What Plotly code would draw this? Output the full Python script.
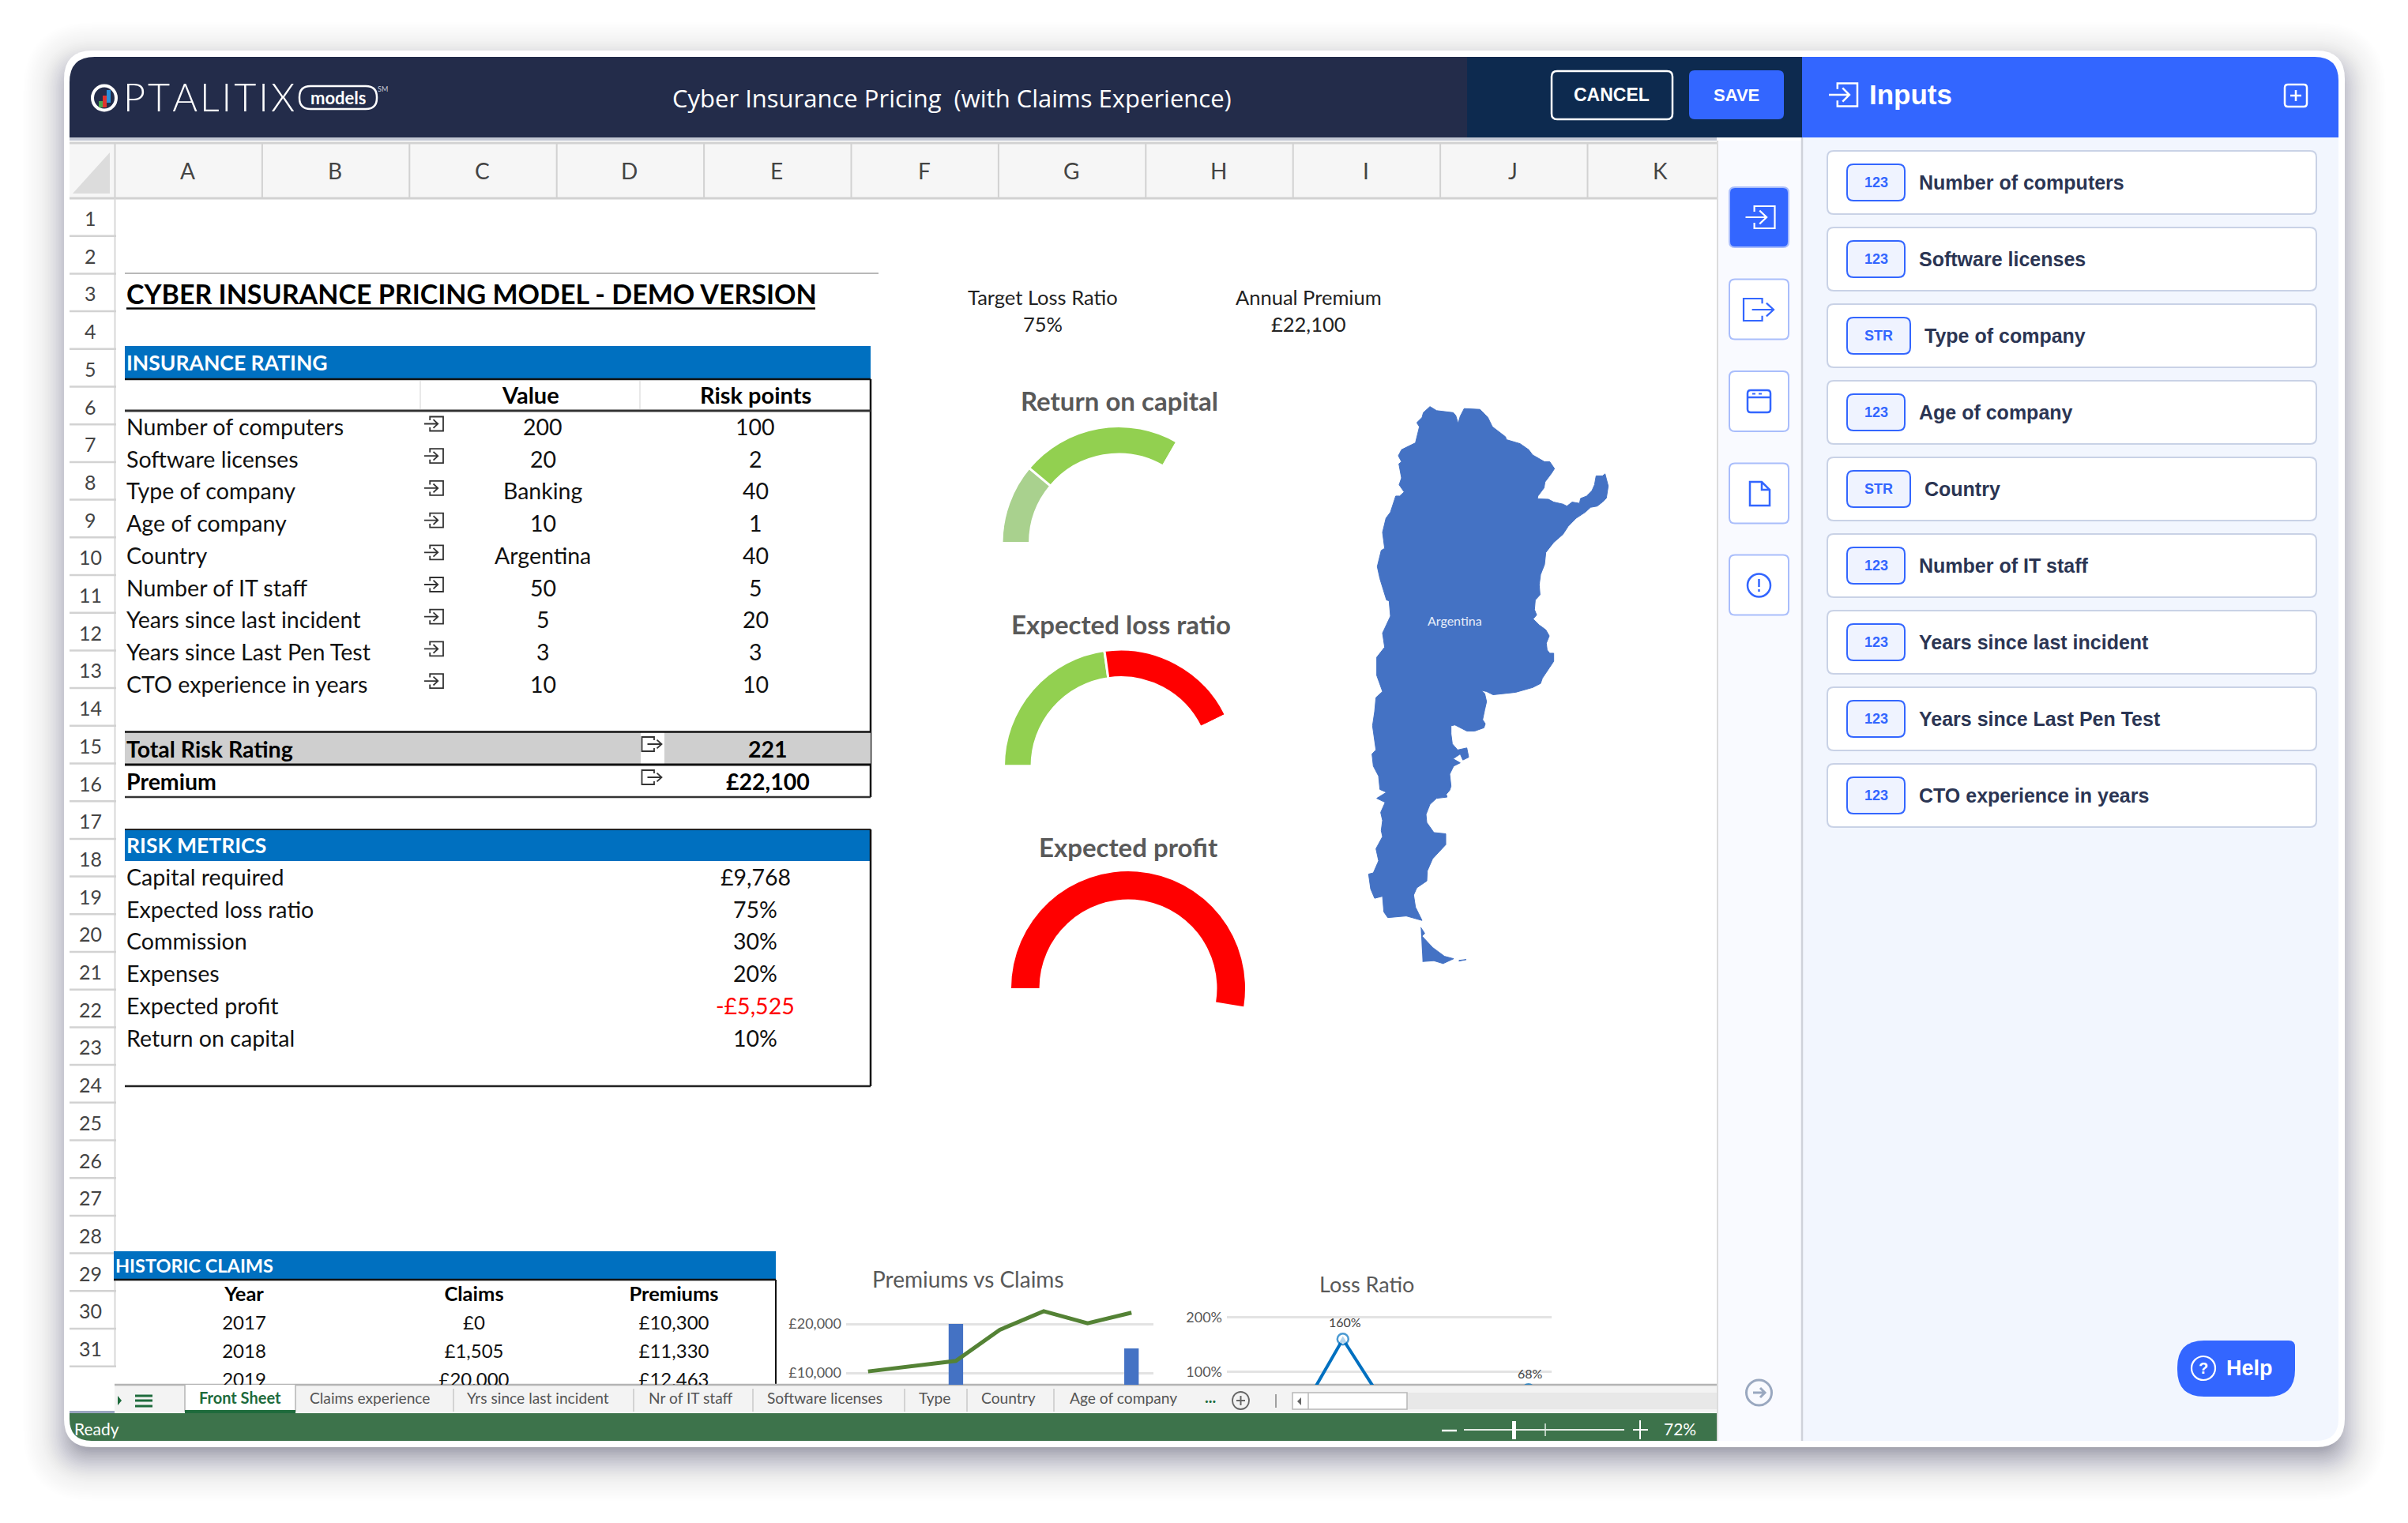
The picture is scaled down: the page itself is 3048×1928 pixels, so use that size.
import plotly.graph_objects as go

W, H = 3048, 1928

#______________ Data ______________

COLUMN_LETTERS = ["A", "B", "C", "D", "E", "F", "G", "H", "I", "J", "K"]
ROW_NUMBERS = list(range(1, 32))

INPUT_NAMES = ["Number of computers", "Software licenses", "Type of company", "Age of company", "Country",
               "Number of IT staff", "Years since last incident", "Years since Last Pen Test", "CTO experience in years"]
INPUT_TYPES = ["123", "123", "STR", "123", "STR", "123", "123", "123", "123"]
INPUT_VALUES = ["200", "20", "Banking", "10", "Argentina", "50", "5", "3", "10"]
RISK_POINTS = ["100", "2", "40", "1", "40", "5", "20", "3", "10"]

METRIC_NAMES = ["Capital required", "Expected loss ratio", "Commission", "Expenses", "Expected profit", "Return on capital"]
METRIC_VALUES = ["£9,768", "75%", "30%", "20%", "-£5,525", "10%"]

YEARS = ["2017", "2018", "2019", "2020", "2021", "2022", "2023"]
CLAIMS = [0, 1505, 20000, 5300, 0, 0, 15000]
PREMIUMS = [10300, 11330, 12463, 18800, 22600, 20150, 22300]
LOSS_RATIO = [0, 13, 160, 28, 0, 0, 68]
PREMIUM_TICKS = [10000, 20000]
PREMIUM_TICK_TEXT = ["£10,000", "£20,000"]
LOSS_TICKS = [100, 200]
LOSS_TICK_TEXT = ["100%", "200%"]

GAUGE_TITLES = ["Return on capital", "Expected loss ratio", "Expected profit"]
GAUGE_SLICES = [[40, 80, 240], [82, 72, 206], [189, 171]]
GAUGE_COLORS = [["#a9d18e", "#92d050", "rgba(0,0,0,0)"],
                ["#92d050", "#ff0000", "rgba(0,0,0,0)"],
                ["#ff0000", "rgba(0,0,0,0)"]]

SHEET_TABS = ["Claims experience", "Yrs since last incident", "Nr of IT staff", "Software licenses", "Type", "Country", "Age of company"]

# outline of the country
MAP_X = [330, 355, 418, 428, 437, 445, 460, 520, 550, 567, 617, 620, 672, 705, 720, 765, 785, 803, 790, 767, 763, 740, 738,
         780, 800, 835, 850, 870, 898, 902, 925, 945, 955, 961, 985, 995, 1007, 1000, 985, 965, 940, 920, 885, 855, 835, 800,
         770, 765, 750, 745, 748, 730, 727, 735, 722, 745, 770, 783, 772, 775, 785, 800, 800, 757, 750, 720, 655, 570, 545,
         525, 538, 545, 538, 530, 540, 535, 500, 470, 425, 410, 410, 415, 435, 470, 477, 455, 445, 418, 445, 420, 405, 410,
         405, 392, 395, 355, 330, 315, 318, 345, 390, 390, 340, 320, 318, 280, 268, 275, 300, 240, 170, 155, 150, 120, 105,
         97, 115, 135, 125, 150, 145, 150, 143, 160, 128, 165, 140, 135, 115, 110, 125, 112, 120, 125, 150, 128, 128, 158,
         150, 180, 175, 165, 140, 130, 145, 158, 150, 163, 180, 200, 215, 232, 213, 222, 212, 222, 210, 222, 275, 290, 280,
         300, 305, 330, None, 295, 310, 300, 340, 385, 420, 380, 345, 302, None, 440, 468, 440]
MAP_Y = [68, 78, 83, 90, 110, 92, 73, 75, 95, 118, 143, 150, 160, 175, 188, 205, 205, 222, 235, 255, 270, 290, 297,
         298, 305, 310, 315, 305, 308, 296, 290, 277, 262, 240, 240, 235, 265, 295, 305, 315, 318, 330, 345, 365, 385, 405,
         430, 460, 485, 510, 535, 548, 572, 585, 595, 610, 622, 637, 655, 672, 680, 680, 700, 742, 755, 765, 777, 783, 775,
         772, 780, 800, 820, 845, 855, 865, 873, 873, 858, 860, 880, 905, 920, 915, 938, 945, 930, 942, 952, 960, 980, 1010,
         1020, 1030, 1037, 1040, 1055, 1080, 1100, 1125, 1128, 1155, 1190, 1220, 1245, 1262, 1280, 1310, 1343, 1332, 1336, 1322, 1283, 1288, 1265,
         1228, 1225, 1195, 1165, 1135, 1120, 1095, 1075, 1050, 1040, 1025, 1018, 985, 960, 930, 920, 860, 825, 790, 775, 735, 690, 665,
         630, 588, 550, 548, 495, 465, 425, 420, 380, 345, 330, 290, 290, 280, 262, 245, 210, 205, 190, 175, 158, 118, 108,
         95, 83, 68, None, 1360, 1375, 1382, 1410, 1432, 1438, 1450, 1443, 1445, None, 1442, 1440, 1444]

#______________ Colours / fonts ______________

NAVY = "#232c4a"
NAVY_DARK = "#0d2a4f"
BLUE = "#3366ff"
EXCEL_BLUE = "#0070c0"
EXCEL_GREEN = "#3d734b"
TAB_GREEN = "#1e6b3c"
INK = "#2b3553"
CELL_FONT = "Lato"
UI_FONT = "Liberation Sans"

shapes = []
annotations = []


#______________ Helpers ______________

def rr_path(x0, y0, x1, y1, r):
    """Rounded rectangle as an svg path. r is one radius or (tl, tr, br, bl)"""
    tl, tr, br, bl = (r, r, r, r) if not isinstance(r, tuple) else r
    return (f"M{x0+tl},{y0} L{x1-tr},{y0} Q{x1},{y0} {x1},{y0+tr} L{x1},{y1-br} Q{x1},{y1} {x1-br},{y1} "
            f"L{x0+bl},{y1} Q{x0},{y1} {x0},{y1-bl} L{x0},{y0+tl} Q{x0},{y0} {x0+tl},{y0} Z")


def add_box(x0, y0, x1, y1, fill, line=None, width=0, r=0):
    shape = dict(type="path", xref="x", yref="y", layer="below", path=rr_path(x0, y0, x1, y1, r), fillcolor=fill)
    shape["line"] = dict(color=line, width=width) if line else dict(width=0)
    shapes.append(shape)


def add_line(x0, y0, x1, y1, color, width=2):
    shapes.append(dict(type="line", xref="x", yref="y", layer="below", x0=x0, y0=y0, x1=x1, y1=y1,
                       line=dict(color=color, width=width)))


def add_path(path, color, width=2, fill=None):
    shapes.append(dict(type="path", xref="x", yref="y", layer="below", path=path, fillcolor=fill or "rgba(0,0,0,0)",
                       line=dict(color=color, width=width)))


def add_circle(cx, cy, rx, ry, color, width=2, fill=None):
    shapes.append(dict(type="circle", xref="x", yref="y", layer="below", x0=cx-rx, x1=cx+rx, y0=cy-ry, y1=cy+ry,
                       fillcolor=fill or "rgba(0,0,0,0)", line=dict(color=color, width=width)))


def label(x, y, text, size, color="#111111", font=CELL_FONT, weight=400, anchor="center"):
    annotations.append(dict(x=x, y=y, xref="x", yref="y", text=text, showarrow=False, xanchor=anchor, yanchor="middle",
                            font=dict(family=font, size=size, color=color, weight=weight), borderpad=0))


def scaled(points, x, y, w, h):
    out = ""
    for cmd, px, py in points:
        out += f"{cmd}{x + px * w},{y + py * h} "
    return out


def icon_in(cx, cy, w, h, color, width=2):
    x, y = cx - w / 2, cy - h / 2
    pts = [("M", .3, .25), ("L", .3, 0), ("L", 1, 0), ("L", 1, 1), ("L", .3, 1), ("L", .3, .75),
           ("M", 0, .5), ("L", .72, .5), ("M", .48, .2), ("L", .72, .5), ("L", .48, .8)]
    add_path(scaled(pts, x, y, w, h), color, width)


def icon_out(cx, cy, w, h, color, width=2):
    x, y = cx - w / 2, cy - h / 2
    pts = [("M", .62, .22), ("L", .62, 0), ("L", 0, 0), ("L", 0, 1), ("L", .62, 1), ("L", .62, .78),
           ("M", .28, .5), ("L", 1, .5), ("M", .76, .2), ("L", 1, .5), ("L", .76, .8)]
    add_path(scaled(pts, x, y, w, h), color, width)


def dom_x(a, b):
    return [a / W, b / W]


def dom_y(top, bottom):
    return [1 - bottom / H, 1 - top / H]


#______________ Page chrome ______________

# soft shadow around the card, each ring adds a little more going inward
for e in range(-20, 64, 2):
    alpha = 0.034 * ((64 - e) / 84) ** 1.4
    shapes.append(dict(type="path", xref="x", yref="y", layer="below", line=dict(width=0),
                       fillcolor=f"rgba(70,76,100,{alpha:.4f})",
                       path=rr_path(81 - e, 80 - e, 2968 + e, 1848 + e, max(36 + e, 10))))

add_box(81, 64, 2968, 1832, "#ffffff", r=36)

# title bar
add_box(88, 72, 1860, 174, NAVY, r=(32, 0, 0, 0))
add_box(1857, 72, 2281, 174, NAVY_DARK)
add_box(2281, 72, 2960, 174, BLUE, r=(0, 30, 0, 0))
add_box(88, 174, 2173, 178, "#c3c8d4")

# logo
add_circle(132, 124, 15, 15.5, "#ffffff", 4)
add_box(125, 128, 130, 136, "#4ca64c")
add_box(130, 121, 135, 136, "#e0322c")
add_box(135, 114, 140, 130, "#2a8fd8")
label(155, 122, "P\u200aT\u200aA\u200aL\u200aI\u200aT\u200aI\u200aX", 48.5, "#ffffff", "Lato", 300, "left")
add_box(379, 109, 477, 138, "rgba(0,0,0,0)", "#ffffff", 2.5, r=14)
label(428, 123, "models", 22, "#ffffff", "Lato", 700)
label(484, 112, "SM", 9, "#c8ccd8", "Lato")

label(1205, 124, "Cyber Insurance Pricing\u00a0\u00a0(with Claims Experience)", 31, "#ffffff", "Open Sans")

add_box(1964, 90, 2117, 151, "rgba(0,0,0,0)", "#ffffff", 2.5, r=7)
label(2040, 120, "CANCEL", 23, "#ffffff", UI_FONT, 700)
add_box(2138, 89, 2258, 151, BLUE, r=7)
label(2198, 120, "SAVE", 22, "#ffffff", UI_FONT, 700)

icon_in(2333, 120, 36, 29, "#ffffff", 2.5)
label(2365, 119, "Inputs", 35, "#ffffff", UI_FONT, 700, "left")
add_box(2892, 107, 2920, 135, "rgba(0,0,0,0)", "#ffffff", 2.5, r=4)
add_line(2899, 121, 2913, 121, "#ffffff", 2.5)
add_line(2906, 114, 2906, 128, "#ffffff", 2.5)

# column headers
add_box(88, 181, 2173, 251, "#f6f6f6")
add_line(88, 181, 2173, 181, "#d2d2d2", 3)
add_line(88, 251, 2173, 251, "#d2d2d2", 3)
add_path("M92,245 L139,245 L139,193 Z", "#dcdcdc", 0, "#dcdcdc")
add_line(145.5, 181, 145.5, 251, "#d2d2d2", 2)
for i, letter in enumerate(COLUMN_LETTERS):
    x0 = 145.5 + 186.4 * i
    if i > 0:
        add_line(x0, 181, x0, 251, "#d2d2d2", 2)
    label(x0 + 92, 216, letter, 28, "#444444")

# row headers
add_line(145.5, 251, 145.5, 1731, "#d8d8d8", 2)
for i, num in enumerate(ROW_NUMBERS):
    y0 = 251 + 47.7 * i
    add_line(88, y0 + 47.7, 147, y0 + 47.7, "#d2d2d2", 2.5)
    label(114, y0 + 25, str(num), 25, "#444444")

#______________ Insurance rating table ______________

add_line(158, 346, 1112, 346, "#b8b8b8", 2)
label(159, 371, "CYBER INSURANCE PRICING MODEL - DEMO VERSION", 34, "#000000", CELL_FONT, 700, "left")
add_line(160, 390.5, 1032, 390.5, "#000000", 2.5)

add_box(158, 438, 1102, 480, EXCEL_BLUE)
label(159, 459, "INSURANCE RATING", 26.5, "#ffffff", CELL_FONT, 700, "left")
add_line(158, 480, 1102, 480, "#111111", 2.5)
add_line(1102, 480, 1102, 1009, "#111111", 2.5)
add_line(532, 482, 532, 518, "#e2e2e2", 1.5)
add_line(810, 482, 810, 518, "#e2e2e2", 1.5)
add_line(158, 520, 1102, 520, "#333333", 3)
label(671, 499, "Value", 29, "#000000", CELL_FONT, 700)
label(956, 499, "Risk points", 29, "#000000", CELL_FONT, 700)

for i, name in enumerate(INPUT_NAMES):
    y = 540 + 40.7 * i
    label(159, y, name, 28.6, "#111111", CELL_FONT, 400, "left")
    label(687, y, INPUT_VALUES[i], 28.5)
    label(956, y, RISK_POINTS[i], 28.5)
    icon_in(549, y - 3.5, 24, 18, "#333333", 1.8)

add_box(158, 927, 811, 967, "#cfcfcf")
add_box(841, 927, 1102, 967, "#cfcfcf")
add_line(158, 926.5, 1102, 926.5, "#111111", 2.5)
add_line(158, 968, 1102, 968, "#111111", 3)
add_line(158, 1009, 1102, 1009, "#333333", 2.5)
label(159, 947.5, "Total Risk Rating", 28.5, "#000000", CELL_FONT, 700, "left")
label(972, 947.5, "221", 28.5, "#000000", CELL_FONT, 700)
label(159, 988.5, "Premium", 28.5, "#000000", CELL_FONT, 700, "left")
label(972, 988.5, "£22,100", 28.5, "#000000", CELL_FONT, 700)
icon_out(825, 942, 25, 18, "#333333", 1.8)
icon_out(825, 984, 25, 18, "#333333", 1.8)

#______________ Risk metrics table ______________

add_box(158, 1050, 1102, 1090, EXCEL_BLUE)
add_line(158, 1050, 1102, 1050, "#222222", 2)
add_line(1102, 1050, 1102, 1375, "#111111", 2.5)
add_line(158, 1375, 1102, 1375, "#222222", 2.5)
label(159, 1070, "RISK METRICS", 26.5, "#ffffff", CELL_FONT, 700, "left")
for i, name in enumerate(METRIC_NAMES):
    y = 1110 + 40.7 * i
    label(159, y, name, 28.6, "#111111", CELL_FONT, 400, "left")
    label(956, y, METRIC_VALUES[i], 28.5, "#ff0000" if METRIC_VALUES[i].startswith("-") else "#111111")

#______________ Headline figures and gauge titles ______________

label(1320, 376, "Target Loss Ratio", 25.5, "#222222")
label(1320, 410, METRIC_VALUES[1], 25.5, "#222222")
label(1656, 376, "Annual Premium", 25.5, "#222222")
label(1656, 410, "£22,100", 25.5, "#222222")

GAUGE_CENTERS = [(1416, 687.5), (1418.5, 970), (1428, 1251)]
GAUGE_TITLE_POS = [(1416.5, 506.5), (1419, 790), (1428.5, 1072)]
GAUGE_ROTATION = [-90, -90, -90]
for i, title in enumerate(GAUGE_TITLES):
    label(GAUGE_TITLE_POS[i][0], GAUGE_TITLE_POS[i][1], title, 33, "#595959", CELL_FONT, 700)

label(1841.5, 785, "Argentina", 16, "#e8eefa")

#______________ Historic claims header ______________

add_box(144, 1584, 982, 1620, EXCEL_BLUE)
add_line(144, 1620, 982, 1620, "#111111", 2.5)
add_line(982, 1620, 982, 1753, "#111111", 2)
label(145, 1602, "HISTORIC CLAIMS", 23.5, "#ffffff", CELL_FONT, 700, "left")

label(1225, 1618.5, "Premiums vs Claims", 28, "#595959")
label(1729.5, 1625.5, "Loss Ratio", 27, "#595959")
label(1702.5, 1673, f"{LOSS_RATIO[2]}%", 16, "#404040")
label(1937, 1738, f"{LOSS_RATIO[6]}%", 16, "#404040")

#______________ Sheet tabs and status bar ______________

add_box(145, 1753, 2173, 1788, "#f3f3f3")
add_line(145, 1753, 2173, 1753, "#b4b4b4", 2.5)
add_box(234, 1753, 374, 1788, "#ffffff")
add_line(234, 1753, 234, 1787, "#b4b4b4", 1.5)
add_line(374, 1753, 374, 1787, "#b4b4b4", 1.5)
add_box(234, 1785, 374, 1789, TAB_GREEN)
add_box(88, 1786, 145, 1789, "#9aa5c0")
label(304, 1769, "Front Sheet", 20, TAB_GREEN, CELL_FONT, 700)
add_path("M149,1767 L154,1773 L149,1779 Z", TAB_GREEN, 0, TAB_GREEN)
for yy in (1767, 1773, 1780):
    add_line(171, yy, 193, yy, TAB_GREEN, 3)

TAB_CENTERS = [468, 681, 874, 1044, 1183, 1276, 1422]
TAB_SEPS = [574, 802, 953, 1145, 1224, 1334]
for name, cx in zip(SHEET_TABS, TAB_CENTERS):
    label(cx, 1769, name, 19.2, "#555555")
for sx in TAB_SEPS:
    add_line(sx, 1758, sx, 1787, "#c8c8c8", 1.5)
label(1532, 1768, "...", 20, TAB_GREEN, CELL_FONT, 700)
add_circle(1570.5, 1773, 10.5, 11, "#666666", 1.8)
add_line(1565, 1773, 1576, 1773, "#666666", 2)
add_line(1570.5, 1767, 1570.5, 1779, "#666666", 2)
add_line(1615, 1765, 1615, 1782, "#a0a0a0", 2)
add_box(1636, 1763, 2173, 1784, "#e8e8e8")
add_box(1636, 1763, 1781, 1784, "#ffffff", "#b8b8b8", 1.5)
add_line(1656, 1763, 1656, 1784, "#b8b8b8", 1.5)
add_path("M1647,1769 L1642,1774 L1647,1779 Z", "#666666", 0, "#666666")

add_box(88, 1789, 2173, 1824, EXCEL_GREEN, r=(0, 0, 0, 28))
label(93, 1808, "Ready", 21, "#ffffff", CELL_FONT, 400, "left")
add_line(1825, 1811, 1844, 1811, "#ffffff", 2.5)
add_line(1853, 1810, 2056, 1810, "#e4ece6", 2)
add_box(1914, 1799, 1919, 1822, "#ffffff")
add_line(1956, 1802, 1956, 1818, "#e4ece6", 1.5)
add_line(2067, 1810, 2086, 1810, "#ffffff", 2)
add_line(2076, 1798, 2076, 1822, "#ffffff", 2)
label(2126, 1808, "72%", 21, "#ffffff")

#______________ Sidebar and inputs panel ______________

add_box(2173, 178, 2281, 1824, "#f9faff")
add_line(2174, 178, 2174, 1824, "#dcdcdc", 2)
add_box(2281, 174, 2960, 1824, "#f2f6fe", r=(0, 0, 28, 0))
add_line(2281, 174, 2281, 1824, "#cfd2da", 2.5)

BUTTON_TOPS = [237, 353.5, 470, 586.5, 702.5]
for i, top in enumerate(BUTTON_TOPS):
    add_box(2189, top, 2264, top + 76, BLUE if i == 0 else "#ffffff", "#a9bdfb", 2, r=7)

icon_in(2228, 275, 37, 28, "#ffffff", 2.2)
icon_out(2226, 392, 38, 28, BLUE, 2.2)
# window icon
add_box(2212, 494, 2241, 522, "rgba(0,0,0,0)", BLUE, 2.5, r=4)
add_line(2212, 503, 2241, 503, BLUE, 2.5)
add_line(2218, 498.5, 2222, 498.5, BLUE, 2)
add_line(2226, 498.5, 2230, 498.5, BLUE, 2)
# file icon
add_path("M2215,610 L2230,610 L2240,620 L2240,640 L2215,640 Z M2230,610 L2230,620 L2240,620", BLUE, 2.5)
# info icon
add_circle(2226.5, 741, 14.5, 14.5, BLUE, 2.5)
add_line(2226.5, 733, 2226.5, 743, BLUE, 2.5)
add_line(2226.5, 746, 2226.5, 749, BLUE, 2.5)
# collapse arrow
add_circle(2226.5, 1763, 16, 16, "#9aa8c0", 3)
add_path("M2219,1763 L2234,1763 M2228,1757 L2234,1763 L2228,1769", "#9aa8c0", 3)

for i, name in enumerate(INPUT_NAMES):
    top = 191 + 97 * i
    add_box(2313, top, 2932, top + 80, "#ffffff", "#c9d2e6", 2, r=8)
    kind = INPUT_TYPES[i]
    right = 2411 if kind == "123" else 2418
    add_box(2338, top + 17, right, top + 63, "#eff3ff", BLUE, 2, r=8)
    label((2338 + right) / 2, top + 39.5, kind, 18, BLUE, UI_FONT, 700)
    label(right + 17, top + 39.5, name, 25, INK, UI_FONT, 700, "left")

add_box(2756, 1697, 2905, 1768, BLUE, r=(34, 8, 34, 34))
add_circle(2789, 1732, 15, 15, "#ffffff", 2.2)
label(2789, 1732, "?", 20, "#ffffff", UI_FONT, 700)
label(2817, 1732, "Help", 27, "#ffffff", UI_FONT, 700, "left")

#______________ Traces ______________

fig = go.Figure()

# page axes carry the chrome shapes and labels
fig.add_trace(go.Scatter(x=[0], y=[0], mode="markers", marker=dict(opacity=0), hoverinfo="skip", showlegend=False))

# doughnut gauges, the unused part of the ring is transparent
R_OUT = 148
for i, values in enumerate(GAUGE_SLICES):
    cx, cy = GAUGE_CENTERS[i]
    fig.add_trace(go.Pie(values=values, labels=[str(k) for k in range(len(values))], hole=0.76, sort=False,
                         direction="clockwise", rotation=GAUGE_ROTATION[i], textinfo="none", hoverinfo="skip",
                         showlegend=False,
                         marker=dict(colors=GAUGE_COLORS[i], line=dict(color="#ffffff", width=3 if i < 2 else 0)),
                         domain=dict(x=dom_x(cx - R_OUT, cx + R_OUT), y=dom_y(cy - R_OUT, cy + R_OUT))))

fig.add_trace(go.Scatter(x=MAP_X, y=MAP_Y, xaxis="x2", yaxis="y2", mode="lines", fill="toself", fillcolor="#4472c4",
                         line=dict(color="#4472c4", width=1), hoverinfo="skip", showlegend=False))

fig.add_trace(go.Bar(x=YEARS, y=CLAIMS, xaxis="x3", yaxis="y3", marker=dict(color="#4472c4", line=dict(width=0)), width=0.33,
                     hoverinfo="skip", showlegend=False))
fig.add_trace(go.Scatter(x=YEARS, y=PREMIUMS, xaxis="x3", yaxis="y3", mode="lines", line=dict(color="#548235", width=5),
                         hoverinfo="skip", showlegend=False))

fig.add_trace(go.Scatter(x=YEARS, y=LOSS_RATIO, xaxis="x4", yaxis="y4", mode="lines+markers",
                         line=dict(color=EXCEL_BLUE, width=4),
                         marker=dict(size=[0, 0, 14, 0, 0, 0, 14], color="#ffffff", line=dict(color=EXCEL_BLUE, width=2.5)),
                         hoverinfo="skip", showlegend=False))

# historic table goes in its own subplot so the tab bar cuts off the last row shown
HIST_COLS = [309, 600, 853]
HIST_SHOWN = 3
hist_cells = [YEARS[:HIST_SHOWN], [f"£{v:,}" for v in CLAIMS[:HIST_SHOWN]], [f"£{v:,}" for v in PREMIUMS[:HIST_SHOWN]]]
for col, header in enumerate(["Year", "Claims", "Premiums"]):
    fig.add_trace(go.Scatter(x=[HIST_COLS[col]], y=[0], xaxis="x5", yaxis="y5", mode="text", text=[header],
                             textfont=dict(family=CELL_FONT, size=25.5, color="#000000", weight=700),
                             hoverinfo="skip", showlegend=False))
    fig.add_trace(go.Scatter(x=[HIST_COLS[col]] * HIST_SHOWN, y=list(range(1, HIST_SHOWN + 1)), xaxis="x5", yaxis="y5", mode="text",
                             text=hist_cells[col], textfont=dict(family=CELL_FONT, size=24, color="#111111"),
                             cliponaxis=True, hoverinfo="skip", showlegend=False))

hidden = dict(visible=False, fixedrange=True)
chart_y = dict(showgrid=True, gridcolor="#e3e3e3", gridwidth=2.5, zeroline=False, showline=False, ticks="", ticklabelstandoff=5,
               tickfont=dict(family=CELL_FONT, size=18, color="#595959"), fixedrange=True)

fig.update_layout(
    width=W, height=H, margin=dict(l=0, r=0, t=0, b=0), paper_bgcolor="#ffffff", plot_bgcolor="rgba(0,0,0,0)",
    showlegend=False, shapes=shapes, annotations=annotations,
    xaxis=dict(range=[0, W], domain=[0, 1], **hidden),
    yaxis=dict(range=[H, 0], domain=[0, 1], **hidden),
    xaxis2=dict(range=[0, 1200], domain=dom_x(1700, 2100), anchor="y2", **hidden),
    yaxis2=dict(range=[1568, 0], domain=dom_y(480, 1280), anchor="x2", **hidden),
    xaxis3=dict(type="category", range=[-0.5, 6.5], domain=dom_x(1071, 1460), anchor="y3", **hidden),
    yaxis3=dict(range=[7580, 24200], domain=dom_y(1650, 1753), anchor="x3", tickvals=PREMIUM_TICKS, ticktext=PREMIUM_TICK_TEXT, **chart_y),
    xaxis4=dict(type="category", range=[-0.5, 6.5], domain=dom_x(1553, 1964), anchor="y4", **hidden),
    yaxis4=dict(range=[77, 225], domain=dom_y(1650, 1753), anchor="x4", tickvals=LOSS_TICKS, ticktext=LOSS_TICK_TEXT, **chart_y),
    xaxis5=dict(range=[144, 982], domain=dom_x(144, 982), anchor="y5", **hidden),
    yaxis5=dict(range=[3.11, -0.58], domain=dom_y(1620, 1753), anchor="x5", **hidden),
)

fig.write_html("out.html", config=dict(displayModeBar=False),
               post_script="document.body.style.margin='0';document.body.style.overflow='hidden';")
